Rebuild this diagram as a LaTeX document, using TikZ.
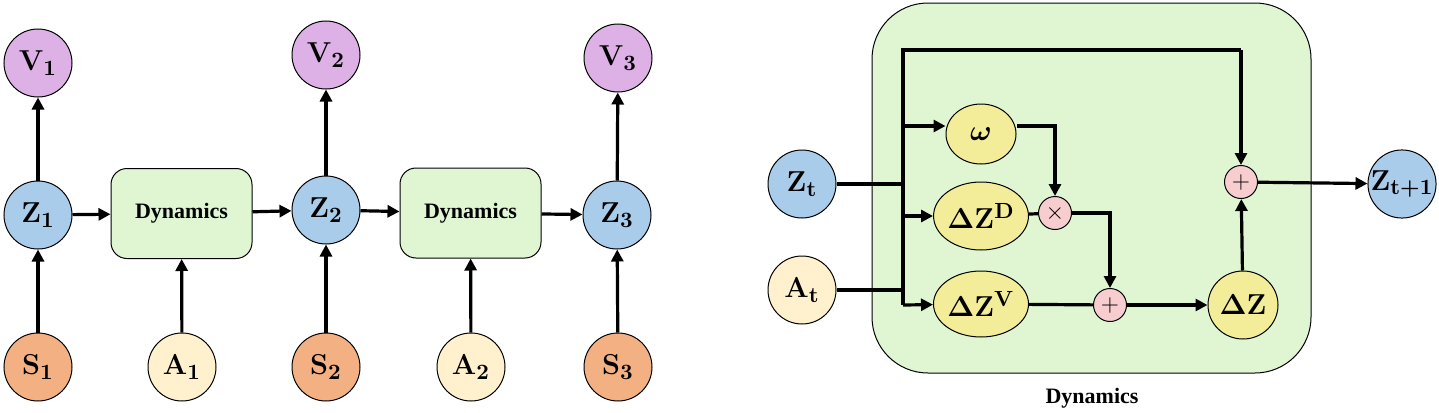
\documentclass[tikz,border=0pt]{standalone}
\usepackage{fontspec}
\setmainfont{Liberation Serif}
\usetikzlibrary{arrows.meta}
\definecolor{cv}{HTML}{DDB0E6}
\definecolor{cz}{HTML}{A9CCEB}
\definecolor{cs}{HTML}{F3B083}
\definecolor{ca}{HTML}{FFF1CD}
\definecolor{cy}{HTML}{F3EC98}
\definecolor{cp}{HTML}{F7CDD0}
\definecolor{cg}{HTML}{E0F6D2}
\begin{document}
\begin{tikzpicture}[x=0.5pt,y=-0.5pt,
  nd/.style={circle,draw,line width=0.5pt,minimum size=34pt,inner sep=0pt,font=\fontsize{15}{15}\selectfont\bfseries\boldmath},
  el/.style={ellipse,draw,line width=0.5pt,minimum width=35pt,minimum height=30pt,inner sep=0pt,fill=cy,font=\fontsize{15}{15}\selectfont\bfseries\boldmath},
  op/.style={circle,draw,line width=0.5pt,minimum size=16.5pt,inner sep=0pt,fill=cp,font=\fontsize{12}{12}\selectfont},
  dyn/.style={draw,line width=0.5pt,rounded corners=8pt,fill=cg,minimum width=70.5pt,minimum height=45pt,font=\fontsize{11}{11}\selectfont\bfseries},
  ar/.style={line width=1.6pt,-{Triangle[length=6pt,width=6pt]}},
  ln/.style={line width=1.6pt}]
\useasboundingbox (0,0) rectangle (1439,412);
\usetikzlibrary{shapes.geometric}
% left chain
\node[nd,fill=cv] (v1) at (38,63) {$\mathbf{V_1}$};
\node[nd,fill=cv] (v2) at (326,55) {$\mathbf{V_2}$};
\node[nd,fill=cv] (v3) at (618,58) {$\mathbf{V_3}$};
\node[nd,fill=cz] (z1) at (38,215) {$\mathbf{Z_1}$};
\node[nd,fill=cz] (z2) at (326,210) {$\mathbf{Z_2}$};
\node[nd,fill=cz] (z3) at (617,215) {$\mathbf{Z_3}$};
\node[nd,fill=cs] (s1) at (38,367) {$\mathbf{S_1}$};
\node[nd,fill=ca] (a1) at (182,367) {$\mathbf{A_1}$};
\node[nd,fill=cs] (s2) at (326,367) {$\mathbf{S_2}$};
\node[nd,fill=ca] (a2) at (471,367) {$\mathbf{A_2}$};
\node[nd,fill=cs] (s3) at (618,367) {$\mathbf{S_3}$};
\node[dyn] (d1) at (181.5,213.5) {Dynamics};
\node[dyn] (d2) at (470.5,213) {Dynamics};
\draw[ar] (z1) -- (v1); \draw[ar] (z2) -- (v2); \draw[ar] (z3) -- (v3);
\draw[ar] (s1) -- (z1); \draw[ar] (s2) -- (z2); \draw[ar] (s3) -- (z3);
\draw[ar] (a1) -- (d1); \draw[ar] (a2) -- (d2);
\draw[ar] (z1) -- (d1); \draw[ar] (d1) -- (z2); \draw[ar] (z2) -- (d2); \draw[ar] (d2) -- (z3);
% right
\draw[line width=0.5pt,fill=cg,rounded corners=28pt] (872,3) rectangle (1311,373);
\node[font=\fontsize{11}{11}\selectfont\bfseries] (lab) at (1092,398) {Dynamics};
\node[nd,fill=cz] (zt) at (802,184) {$\mathbf{Z_t}$};
\node[nd,fill=ca] (at) at (802,290) {$\mathbf{A_t}$};
\node[nd,fill=cz] (zt1) at (1402,184) {$\mathbf{Z_{t+1}}$};
\node[el] (w) at (981,134) {$\omega$};
\node[el,minimum height=34pt] (dzd) at (981,216) {$\mathbf{\Delta Z^D}$};
\node[el,minimum height=33pt] (dzv) at (981,304) {$\mathbf{\Delta Z^V}$};
\node[el,minimum height=34pt] (dz) at (1243,305) {$\mathbf{\Delta Z}$};
\node[op] (tm) at (1055,213) {$\times$};
\node[op] (p1) at (1110,305) {$+$};
\node[op] (p2) at (1241,182) {$+$};
\coordinate (bt) at (903,50);
\coordinate (bb) at (903,305);
\draw[ln] (zt) -- (zt -| bt);
\draw[ln] (at.east) -- (at.east -| bt);
\draw[ln] (bb) -- (bt) -- (bt -| p2);
\draw[ar] (bt -| p2) -- (p2);
\draw[ar] (903,126) -- (w.west |- 0,126);
\draw[ar] (dzd.west -| bt) -- (dzd);
\draw[ar] (bb) -- (dzv);
\draw[ar] (w.east |- 0,126) -| (tm);
\draw[ln] (dzd) -- (tm);
\draw[ar] (tm.east) -| (p1);
\draw[ln] (dzv) -- (p1);
\draw[ar] (p1) -- (dz);
\draw[ar] (dz) -- (p2);
\draw[ar] (p2) -- (zt1);
\end{tikzpicture}
\end{document}
